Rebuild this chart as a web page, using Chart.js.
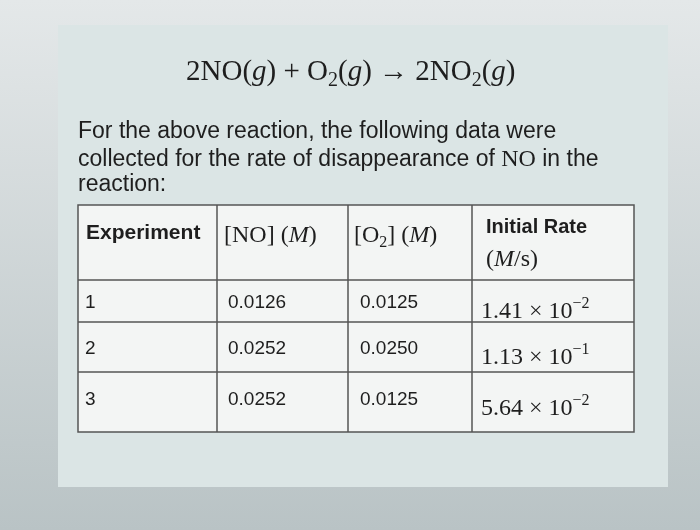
<!DOCTYPE html>
<html><head><meta charset="utf-8">
<script src="https://cdn.jsdelivr.net/npm/chart.js@4"></script>
<style>html,body{margin:0;padding:0;background:#cdd5d6}#wrap{width:700px;height:530px}</style>
</head><body><div id="wrap"><canvas id="c" width="700" height="530"></canvas></div>
<script>
const headers = ['Experiment', '[NO] (M)', '[O₂] (M)', 'Initial Rate'];
const experiments = ['1', '2', '3'];
const noConc = ['0.0126', '0.0252', '0.0252'];
const o2Conc = ['0.0125', '0.0250', '0.0125'];
const rateMant = ['1.41', '1.13', '5.64'];
const rateExp = ['−2', '−1', '−2'];

// column edges and row edges of the table (layout only)
const colX = [78, 217, 348, 472, 634];
const rowY = [205, 280, 322, 372, 432];

// draw runs of [text, style] left to right; style n=normal, i=italic, s=subscript, p=superscript
function runs(ctx, list, x, y, size) {
  list.forEach(([t, k]) => {
    const sz = (k === 's' || k === 'p') ? Math.round(size * 0.68) : size;
    ctx.font = (k === 'i' ? 'italic ' : '') + sz + 'px "Liberation Serif"';
    const dy = k === 's' ? size * 0.22 : k === 'p' ? -size * 0.42 : 0;
    ctx.fillText(t, x, y + dy);
    x += ctx.measureText(t).width;
  });
  return x;
}

const tablePlugin = {
  id: 'table',
  beforeDraw(chart) {
    const ctx = chart.ctx;
    ctx.save();
    let g = ctx.createLinearGradient(0, 0, 0, 530);
    g.addColorStop(0, '#e4e8e9'); g.addColorStop(1, '#b9c3c5');
    ctx.fillStyle = g; ctx.fillRect(0, 0, 700, 530);
    ctx.fillStyle = '#dbe5e5'; ctx.fillRect(58, 25, 610, 462);
    ctx.fillStyle = '#f3f5f4'; ctx.fillRect(colX[0], rowY[0], colX[4] - colX[0], rowY[4] - rowY[0]);

    ctx.fillStyle = '#1e1e1e'; ctx.textBaseline = 'alphabetic';
    // equation
    runs(ctx, [['2NO(', 'n'], ['g', 'i'], [') + O', 'n'], ['2', 's'], ['(', 'n'], ['g', 'i'], [') → 2NO', 'n'], ['2', 's'], ['(', 'n'], ['g', 'i'], [')', 'n']], 186, 80, 29);
    // paragraph
    ctx.font = '23px "Liberation Sans"';
    ctx.fillText('For the above reaction, the following data were', 78, 138);
    const p1 = 'collected for the rate of disappearance of ';
    ctx.fillText(p1, 78, 166);
    let px = 78 + ctx.measureText(p1).width;
    ctx.font = '24px "Liberation Serif"'; ctx.fillText('NO', px, 166);
    px += ctx.measureText('NO').width;
    ctx.font = '23px "Liberation Sans"'; ctx.fillText(' in the', px, 166);
    ctx.fillText('reaction:', 78, 191);

    // grid
    ctx.strokeStyle = '#555'; ctx.lineWidth = 1.5;
    ctx.strokeRect(colX[0], rowY[0], colX[4] - colX[0], rowY[4] - rowY[0]);
    colX.slice(1, 4).forEach(cx => { ctx.beginPath(); ctx.moveTo(cx, rowY[0]); ctx.lineTo(cx, rowY[4]); ctx.stroke(); });
    rowY.slice(1, 4).forEach(ry => { ctx.beginPath(); ctx.moveTo(colX[0], ry); ctx.lineTo(colX[4], ry); ctx.stroke(); });

    // header
    ctx.font = 'bold 21px "Liberation Sans"';
    ctx.fillText(headers[0], 86, 239);
    runs(ctx, [['[NO] (', 'n'], ['M', 'i'], [')', 'n']], 224, 242, 24);
    runs(ctx, [['[O', 'n'], ['2', 's'], ['] (', 'n'], ['M', 'i'], [')', 'n']], 354, 242, 24);
    ctx.font = 'bold 20px "Liberation Sans"'; ctx.fillText(headers[3], 486, 233);
    runs(ctx, [['(', 'n'], ['M', 'i'], ['/s)', 'n']], 486, 266, 24);

    // rows
    experiments.forEach((e, i) => {
      const ty = (rowY[i + 1] + rowY[i + 2]) / 2 + 7 - (i === 2 ? 4 : 0);
      ctx.font = '19px "Liberation Sans"';
      ctx.fillText(e, 85, ty);
      ctx.fillText(noConc[i], 228, ty);
      ctx.fillText(o2Conc[i], 360, ty);
      runs(ctx, [[rateMant[i] + ' × 10', 'n'], [rateExp[i], 'p']], 481, ty + 10, 24);
    });
    ctx.restore();
  }
};

new Chart(document.getElementById('c'), {
  type: 'bar',
  data: { labels: experiments, datasets: [{ data: [], backgroundColor: 'transparent' }] },
  options: {
    responsive: false, animation: false,
    plugins: { legend: { display: false }, tooltip: { enabled: false } },
    scales: { x: { display: false }, y: { display: false } }
  },
  plugins: [tablePlugin]
});
</script></body></html>
